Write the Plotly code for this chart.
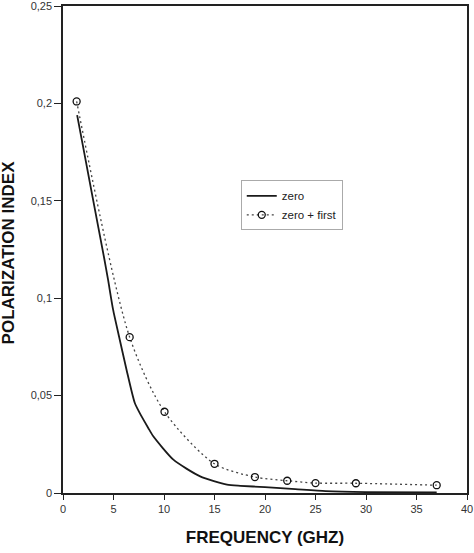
import plotly.graph_objects as go

# zero order (solid line)
zero_freq = [1.4, 3.0, 4.06, 4.46, 4.96, 5.62, 6.29, 7.11, 7.78, 8.44, 8.94, 10.93, 13.58, 16.24, 17.56, 20.0, 23.0, 26.0, 30.0, 37.0]
zero_pol = [0.194, 0.150, 0.121, 0.1095, 0.0941, 0.0787, 0.0633, 0.0462, 0.0393, 0.0334, 0.0291, 0.0171, 0.0085, 0.0043, 0.0037, 0.0030, 0.0020, 0.0010, 0.0005, 0.0003]

# zero + first order (dotted line with open circles)
first_freq = [1.35, 6.6, 10.05, 15.0, 19.0, 22.2, 25.0, 29.0, 37.0]
first_pol = [0.201, 0.080, 0.0417, 0.015, 0.0082, 0.0063, 0.0051, 0.0050, 0.0040]

x_ticks = [0, 5, 10, 15, 20, 25, 30, 35, 40]
y_ticks = [0, 0.05, 0.1, 0.15, 0.2, 0.25]
y_tick_text = ["0", "0,05", "0,1", "0,15", "0,2", "0,25"]

FONT = "Arial, Liberation Sans, sans-serif"

fig = go.Figure()

fig.add_trace(
    go.Scatter(
        x=zero_freq,
        y=zero_pol,
        mode="lines",
        name="zero",
        line={"color": "#1a1a1a", "width": 1.8, "shape": "spline", "smoothing": 0.6},
    )
)

fig.add_trace(
    go.Scatter(
        x=first_freq,
        y=first_pol,
        mode="lines+markers",
        name="zero + first",
        line={"color": "#444444", "width": 1.3, "dash": "2px,3px", "shape": "spline", "smoothing": 0.8},
        marker={
            "symbol": "circle-open",
            "size": 7,
            "color": "#111111",
            "line": {"width": 1.3, "color": "#111111"},
        },
    )
)

fig.update_layout(
    width=474,
    height=553,
    margin={"l": 63, "r": 7, "t": 6, "b": 60, "autoexpand": False},
    paper_bgcolor="white",
    plot_bgcolor="white",
    font={"family": FONT, "size": 11, "color": "#333333"},
    showlegend=True,
    legend={
        "x": 0.44,
        "y": 0.642,
        "xanchor": "left",
        "yanchor": "top",
        "bordercolor": "#aaaaaa",
        "borderwidth": 1,
        "bgcolor": "white",
        "font": {"size": 11.5, "color": "#222222"},
        "tracegroupgap": 0,
        "itemwidth": 30,
    },
    # y title as an annotation so it can sit close to the left edge like the original
    annotations=[
        {
            "text": "<b>POLARIZATION INDEX</b>",
            "xref": "paper",
            "yref": "paper",
            "x": -54.5 / 404,
            "y": 0.493,
            "xanchor": "center",
            "yanchor": "middle",
            "textangle": -90,
            "showarrow": False,
            "font": {"size": 17, "color": "#111111"},
        }
    ],
)

fig.update_xaxes(
    range=[0, 40],
    tickvals=x_ticks,
    ticks="outside",
    ticklen=5,
    tickcolor="#222222",
    showline=True,
    linecolor="#222222",
    linewidth=1.5,
    mirror=True,
    showgrid=False,
    zeroline=False,
    automargin=False,
    ticklabeloverflow="allow",
    title={
        "text": "<b>FREQUENCY (GHZ)</b>",
        "font": {"size": 17, "color": "#111111"},
        "standoff": 17,
    },
)

fig.update_yaxes(
    range=[0, 0.25],
    tickvals=y_ticks,
    ticktext=y_tick_text,
    ticks="outside",
    ticklen=7,
    tickcolor="#222222",
    showline=True,
    linecolor="#222222",
    linewidth=1.5,
    mirror=True,
    showgrid=False,
    zeroline=False,
    automargin=False,
    ticklabeloverflow="allow",
)

# drop the browser's default page margin so the figure sits at the top-left corner
fig.write_html(
    "out.html",
    config={"displayModeBar": False},
    post_script="document.body.style.margin = '0';",
)
